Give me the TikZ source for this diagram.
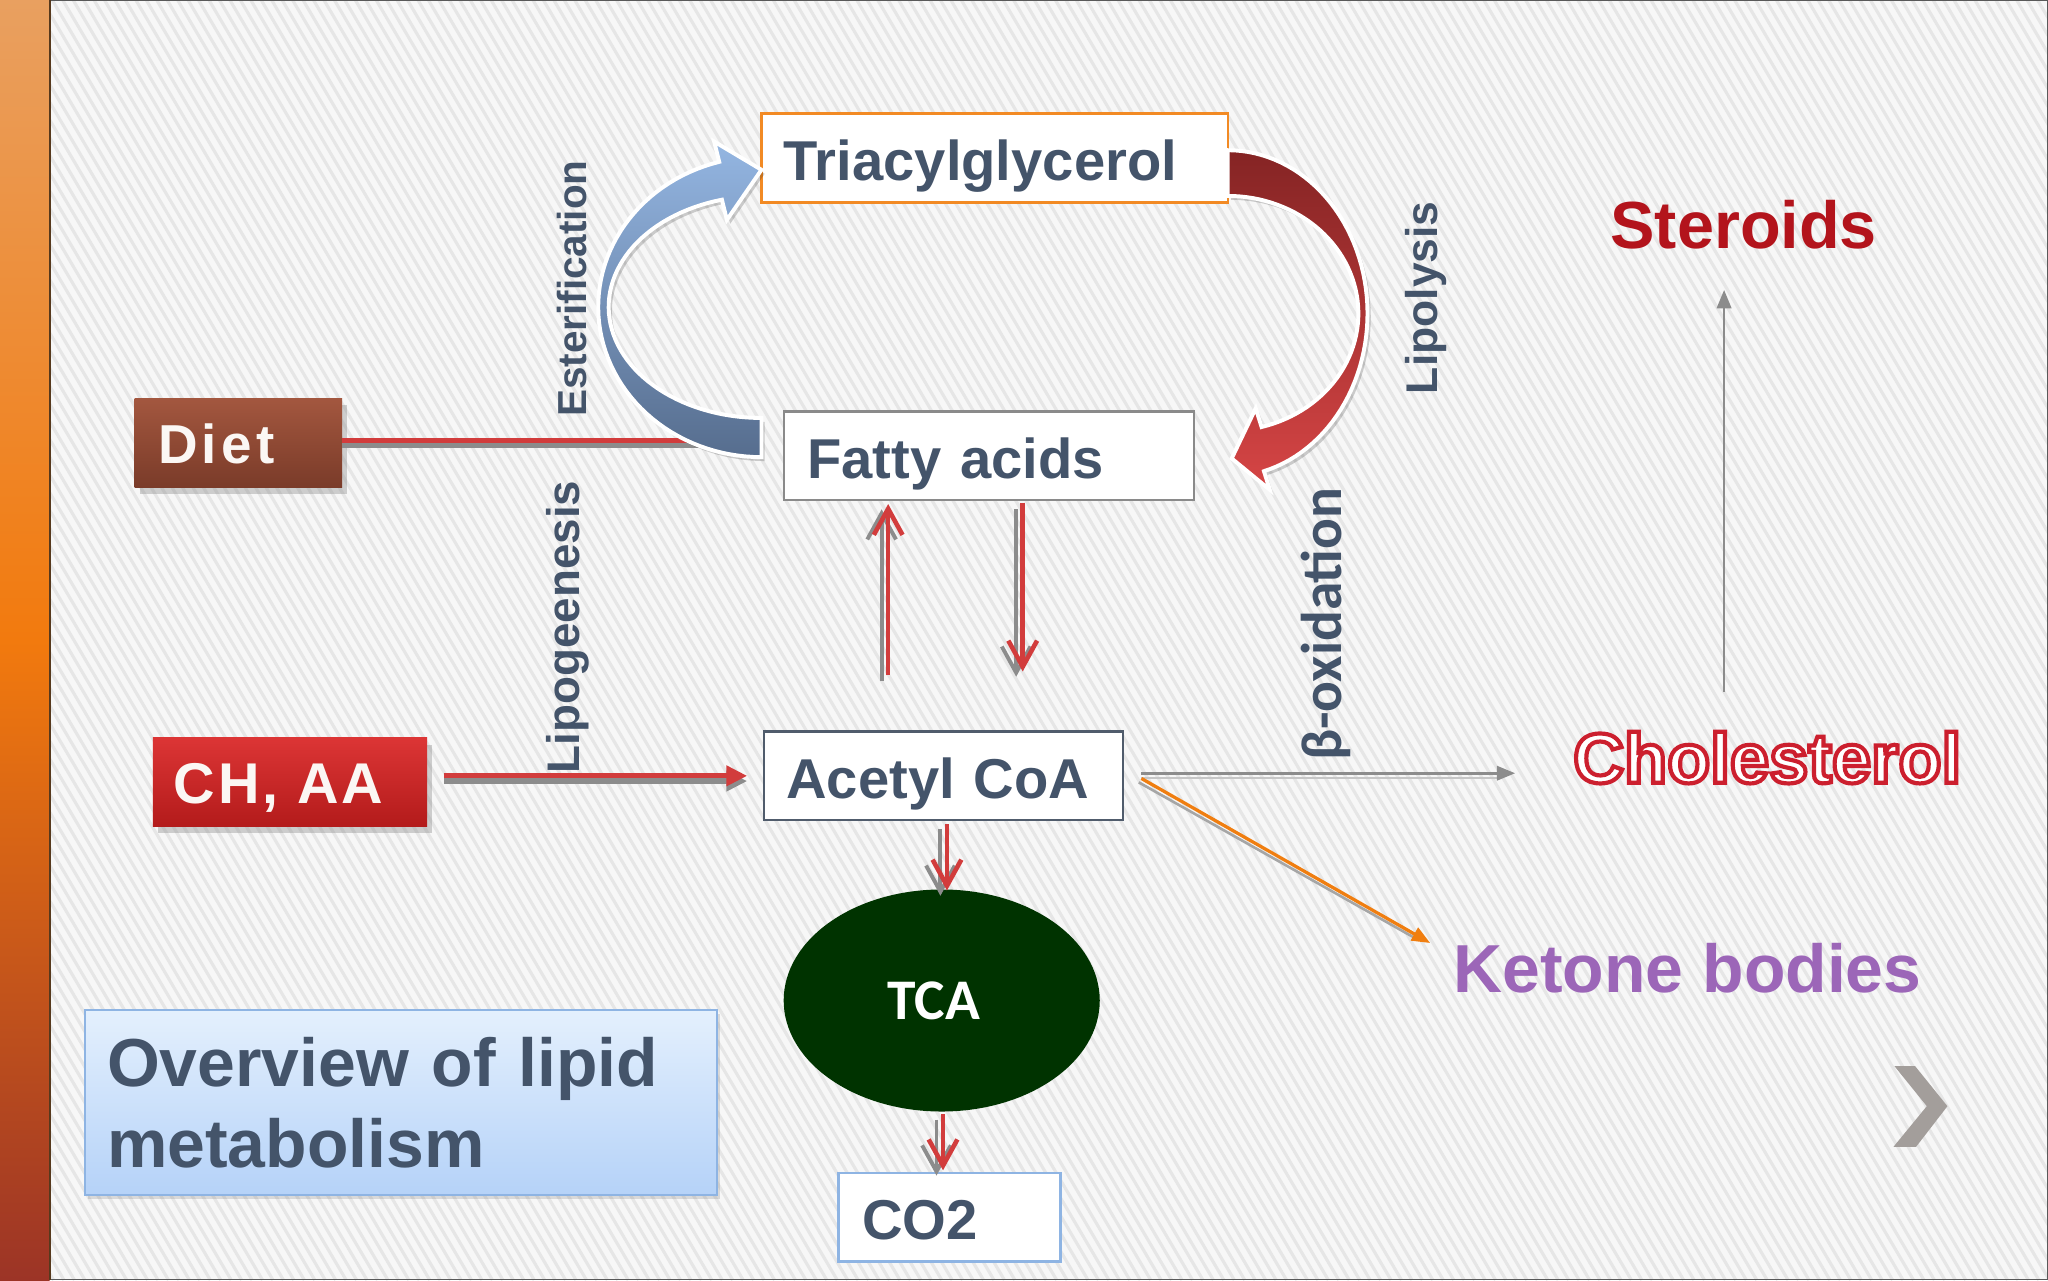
\documentclass[tikz,border=0pt]{standalone}
\usepackage{fontspec}
\setmainfont{Liberation Sans}
\newfontfamily\carlito{Carlito}
\usetikzlibrary{arrows.meta,calc,shadows,shapes.geometric}
\definecolor{bgc}{HTML}{F7F7F7}
\definecolor{stripec}{HTML}{E6E6E6}
\definecolor{barTop}{HTML}{E9A060}
\definecolor{barMid}{HTML}{F27A0E}
\definecolor{barBot}{HTML}{9C3426}
\definecolor{txt}{HTML}{44546A}
\definecolor{tagbd}{HTML}{F28A24}
\definecolor{fabd}{HTML}{8A8A8A}
\definecolor{acbd}{HTML}{505C6C}
\definecolor{cobd}{HTML}{8EB4E3}
\definecolor{tcag}{HTML}{003300}
\definecolor{dietTop}{HTML}{A3573F}
\definecolor{dietBot}{HTML}{7A3B29}
\definecolor{chTop}{HTML}{DC3535}
\definecolor{chBot}{HTML}{B31B1B}
\definecolor{ovTop}{HTML}{E4F0FD}
\definecolor{ovBot}{HTML}{B5D2F8}
\definecolor{esTop}{HTML}{94B6E2}
\definecolor{esBot}{HTML}{566D8E}
\definecolor{lpTop}{HTML}{852424}
\definecolor{lpBot}{HTML}{D64545}
\definecolor{arrred}{HTML}{D23C3C}
\definecolor{shgray}{HTML}{8C8C8C}
\definecolor{steroid}{HTML}{B3141C}
\definecolor{ketone}{HTML}{9C66B8}
\definecolor{orangeln}{HTML}{F07E10}
\definecolor{chev}{HTML}{A39E9B}
\newcommand{\outlinedtext}[1]{\special{pdf:literal direct 2 Tr 3.2 w 0.80 0.12 0.18 RG}#1\special{pdf:literal direct 0 Tr}}
\begin{document}
\begin{tikzpicture}[x=1pt,y=-1pt,
  box/.style={rectangle, fill=white, line width=1.8pt, text=txt, align=left,
    font=\bfseries\fontsize{43}{50}\selectfont, inner ysep=0pt, minimum height=68pt,
    text height=34pt, text depth=0pt},
  colbox/.style={rectangle, text=white!94!brown, align=left, inner ysep=0pt,
    minimum height=68pt, text height=32pt, text depth=0pt,
    drop shadow={shadow xshift=4pt, shadow yshift=-5pt, opacity=0.35}},
  vlabel/.style={rotate=90, text=txt, inner sep=0pt},
  redv/.style={draw=arrred, line width=3.5pt, -{Straight Barb[length=20pt,width=22pt]}},
  grayv/.style={draw=shgray, line width=3pt, -{Straight Barb[length=20pt,width=22pt]}},
  grayarr/.style={draw=gray!90, line width=2pt, -{Triangle[length=14pt,width=11pt]}},
  bigtext/.style={font=\bfseries\fontsize{52}{60}\selectfont, inner sep=0pt}
]
\useasboundingbox (0,0) rectangle (1568,980);
% background
\fill[bgc] (0,0) rectangle (1568,980);
\begin{scope}
  \clip (39,0) rectangle (1568,980);
  \foreach \i in {-75,...,197} \draw[stripec, line width=2.4pt] ({\i*8},0) -- ({\i*8+577},980);
\end{scope}
\shade[top color=barTop, bottom color=barBot, middle color=barMid] (0,0) rectangle (38,980);
\draw[black!55!brown, line width=1.5pt] (38.5,0) -- (38.5,980);
\draw[black!65, line width=1pt] (39,0.5) -- (1567.5,0.5) -- (1567.5,979.5) -- (39,979.5);

% nodes
\node[box, draw=tagbd, text width=323pt, inner xsep=17pt] (tag) at (761.5,121) {Triacylglycerol};
\node[box, draw=fabd, text width=278pt, inner xsep=18pt] (fa) at (757,349) {Fatty acids};
\node[box, draw=acbd, text width=241pt, inner xsep=17pt] (acetyl) at (722.5,594) {Acetyl CoA};
\node[box, draw=cobd, line width=2pt, text width=134pt, inner xsep=18pt] (co2) at (727,932) {CO2};
\node[ellipse, fill=tcag, minimum width=242pt, minimum height=170pt, inner sep=0pt, text=white,
  font=\carlito\bfseries\fontsize{44}{50}\selectfont] (tca) at (721,766) {\hspace*{-12pt}TCA};
\node[colbox, top color=dietTop, bottom color=dietBot, text width=123pt, inner xsep=18pt,
  font=\bfseries\fontsize{42}{50}\selectfont\addfontfeature{LetterSpace=8}] (diet) at (182.5,339) {Diet};
\node[colbox, top color=chTop, bottom color=chBot, text width=178pt, inner xsep=16pt,
  font=\bfseries\fontsize{44}{50}\selectfont\addfontfeature{LetterSpace=5}] (chaa) at (222,599) {CH, AA};
\node[rectangle, top color=ovTop, bottom color=ovBot, draw=cobd, line width=1.5pt,
  text=txt, align=left, text width=450pt, inner xsep=17pt, inner ysep=0pt, minimum height=142pt,
  font=\bfseries\fontsize{52}{62}\selectfont,
  drop shadow={shadow xshift=2pt, shadow yshift=-3pt, opacity=0.25}] (ov) at (307,844)
  {Overview of lipid\\metabolism};

% labels
\node[vlabel, font=\bfseries\fontsize{31}{36}\selectfont] (lest) at (438,221) {Esterification};
\node[vlabel, font=\bfseries\fontsize{35}{40}\selectfont] (llipo) at (435,480) {Lipogeenesis};
\node[vlabel, font=\bfseries\fontsize{34}{40}\selectfont] (llys) at (1092,228) {Lipolysis};
\node[vlabel, font=\carlito\bfseries\fontsize{44}{50}\selectfont] (lbox) at (1015,478) {β-oxidation};

% Steroids, Cholesterol, Ketone bodies
\node[bigtext, text=steroid, font=\bfseries\fontsize{51}{60}\selectfont] (ster) at (1335,172) {Steroids};
\node[bigtext, text=white, font=\bfseries\fontsize{54}{60}\selectfont] (chol) at (1353,580) {\outlinedtext{Cholesterol}};
\node[bigtext, text=ketone] (ket) at (1292,741) {Ketone bodies};

% chevron
\fill[chev] (1450.4,816.2) -- (1466.2,816.2) -- (1491,846.9) -- (1467,878) -- (1449.7,878) -- (1475.2,846.9) -- cycle;

% Diet line
\coordinate (dietend) at (545,339);
\draw[shgray, line width=4pt] ($(diet.east)+(0,2)$) -- ($(dietend)+(0,2)$);
\draw[arrred, line width=4pt] ($(diet.east)+(0,-2)$) -- ($(dietend)+(0,-2)$);

% curved arrows
\def\esterpath{plot[domain=90:255,samples=60] ({583+125*cos(\x)},{235+115*sin(\x)})
  -- (546.8,108.4) -- (583,130) -- (556.5,168.4)
  -- plot[domain=255:90,samples=60] ({583+117*cos(\x)},{235+85*sin(\x)}) -- cycle}
\def\lipopath{plot[domain=-90:75,samples=60] ({940+107*cos(\x)},{240+125*sin(\x)})
  -- (972.2,375) -- (943,351) -- (961.4,312.6)
  -- plot[domain=75:-90,samples=60] ({940+100*cos(\x)},{240+90*sin(\x)}) -- cycle}
\begin{scope}[shift={(2.5,3)}]
  \fill[black, opacity=0.18] \esterpath;
  \fill[black, opacity=0.18] \lipopath;
\end{scope}
\path[top color=esTop, bottom color=esBot, draw=white, line width=3pt] \esterpath;
\path[top color=lpTop, bottom color=lpBot, draw=white, line width=3pt] \lipopath;

% CH, AA -> Acetyl CoA
\draw[shgray, line width=4pt, shorten <=13pt, shorten >=12pt, -{Triangle[length=16pt,width=15pt]}]
  ($(chaa.east |- acetyl.west)+(0,4)$) -- ($(acetyl.west)+(0,4)$);
\draw[arrred, line width=4pt, shorten <=13pt, shorten >=12pt, -{Triangle[length=16pt,width=15pt]}]
  (chaa.east |- acetyl.west) -- (acetyl.west);

% Fatty acids <-> Acetyl CoA
\draw[grayv] ($(acetyl.north)+(-47.5,-38)$) -- ($(fa.south)+(-82,6)$);
\draw[redv] ($(acetyl.north)+(-42.5,-42)$) -- ($(fa.south)+(-77,2)$);
\draw[grayv] ($(fa.south)+(21,6)$) -- ($(acetyl.north)+(55.5,-41)$);
\draw[redv] ($(fa.south)+(26,1)$) -- ($(acetyl.north)+(60.5,-45)$);

% Acetyl CoA -> TCA -> CO2
\draw[grayv] ($(acetyl.south)+(-2.5,6)$) -- ($(tca.north)+(-1,5)$);
\draw[redv] ($(acetyl.south)+(2.5,2)$) -- ($(tca.north)+(4,1)$);
\draw[grayv] ($(tca.south)+(-4,6)$) -- ($(co2.north)+(-10,3)$);
\draw[redv] ($(tca.south)+(1,2)$) -- ($(co2.north)+(-5,-1)$);

% Acetyl CoA -> Cholesterol
\coordinate (cholin) at (1160,592);
\draw[gray!45, line width=1.5pt] ($(acetyl.east)+(13,2)$) -- ($(cholin)+(-12,4)$);
\draw[grayarr] ($(acetyl.east)+(13,-2)$) -- (cholin);

% Acetyl CoA -> Ketone bodies
\coordinate (ketin) at (1095,722);
\draw[gray!70, line width=2pt] ($(acetyl.east)+(11,5)$) -- ($(ketin)+(-12,-4)$);
\draw[orangeln, line width=2.5pt, -{Triangle[length=14pt,width=11pt]}] ($(acetyl.east)+(13,2)$) -- (ketin);

% Cholesterol -> Steroids
\coordinate (cholT) at (1320,530);
\coordinate (sterB) at (1320,222);
\draw[grayarr] (cholT) -- (sterB);
\end{tikzpicture}
\end{document}
